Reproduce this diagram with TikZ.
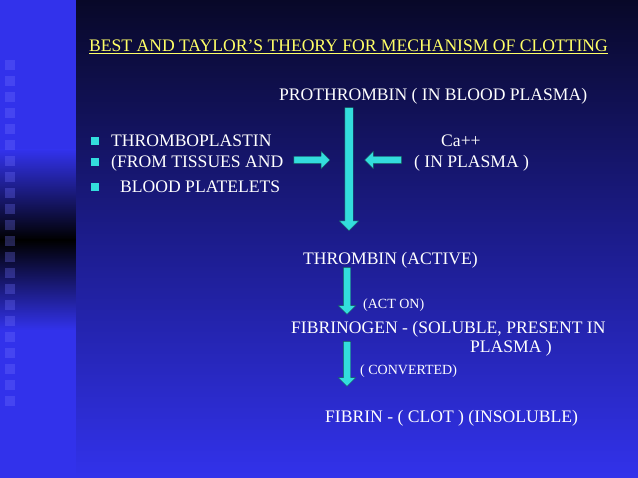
\documentclass[tikz,border=0pt]{standalone}
\usepackage{fontspec}
\setmainfont{Liberation Serif}
\usetikzlibrary{shapes.arrows,shadings}
\definecolor{arr}{HTML}{33DDDD}
\definecolor{ttl}{HTML}{FFFF66}
\definecolor{strip}{RGB}{50,50,235}
\tikzset{
  txt/.style={anchor=base west,inner sep=0pt,text=white,font=\fontsize{17.6}{20}\selectfont},
  sm/.style={txt,font=\fontsize{14}{16}\selectfont},
  arrowshape/.style={single arrow,fill=arr,draw=arr!40!black,line width=0.4pt,inner xsep=0pt,inner ysep=4pt,single arrow head extend=5.5pt,single arrow tip angle=90},
  smallarrow/.style={arrowshape,inner ysep=3.5pt,single arrow head extend=5pt},
  bul/.style={fill=arr,minimum size=8pt,inner sep=0pt}
}
\begin{document}
\begin{tikzpicture}[x=1pt,y=-1pt]
\useasboundingbox (0,0) rectangle (638,478);
\fill[strip] (0,0) rectangle (76,478);
\shade[top color=strip,bottom color=black] (0,150) rectangle (76,240);
\shade[top color=black,bottom color=strip] (0,240) rectangle (76,330);
\shade[top color={rgb,255:red,8;green,8;blue,40},bottom color={rgb,255:red,50;green,50;blue,235},middle color={rgb,255:red,28;green,28;blue,140}] (76,0) rectangle (638,478);
\foreach \k in {0,...,21} { \fill[blue!55!white,opacity=0.3] (5,{60+\k*16}) rectangle (15,{70+\k*16}); }
% title
\node[txt,text=ttl] (title) at (89,52) {\underline{BEST AND TAYLOR’S THEORY FOR MECHANISM OF CLOTTING}};
\node[txt] (pro) at (279,101) {PROTHROMBIN ( IN BLOOD PLASMA)};
\node[bul] (b1) at (95,141) {};
\node[bul] (b2) at (95,162) {};
\node[bul] (b3) at (95,187) {};
\node[txt] (t1) at (111,147) {THROMBOPLASTIN};
\node[txt] (t2) at (111,168) {(FROM TISSUES AND};
\node[txt] (t3) at (120,193) {BLOOD PLATELETS};
\node[txt] (ca) at (441,147) {Ca++};
\node[txt] (inp) at (414,168) {( IN PLASMA )};
\node[txt] (thr) at (303,265) {THROMBIN (ACTIVE)};
\node[sm] (act) at (363,309) {(ACT ON)};
\node[txt] (fib) at (291,334) {FIBRINOGEN - (SOLUBLE, PRESENT IN};
\node[txt] (pl) at (470,353) {PLASMA )};
\node[sm] (conv) at (360,375) {( CONVERTED)};
\node[txt] (fin) at (325,423) {FIBRIN  - (  CLOT ) (INSOLUBLE)};
% arrows
\node[arrowshape,minimum height=123pt,rotate=-90] (a1) at (349,167) {};
\node[smallarrow,minimum height=36pt] (a2) at (310,160) {};
\node[smallarrow,minimum height=37pt,shape border rotate=180] (a3) at (385,160) {};
\node[smallarrow,minimum height=47pt,rotate=-90] (a4) at (347,289) {};
\node[smallarrow,minimum height=45pt,rotate=-90] (a5) at (347,362) {};
\end{tikzpicture}
\end{document}
